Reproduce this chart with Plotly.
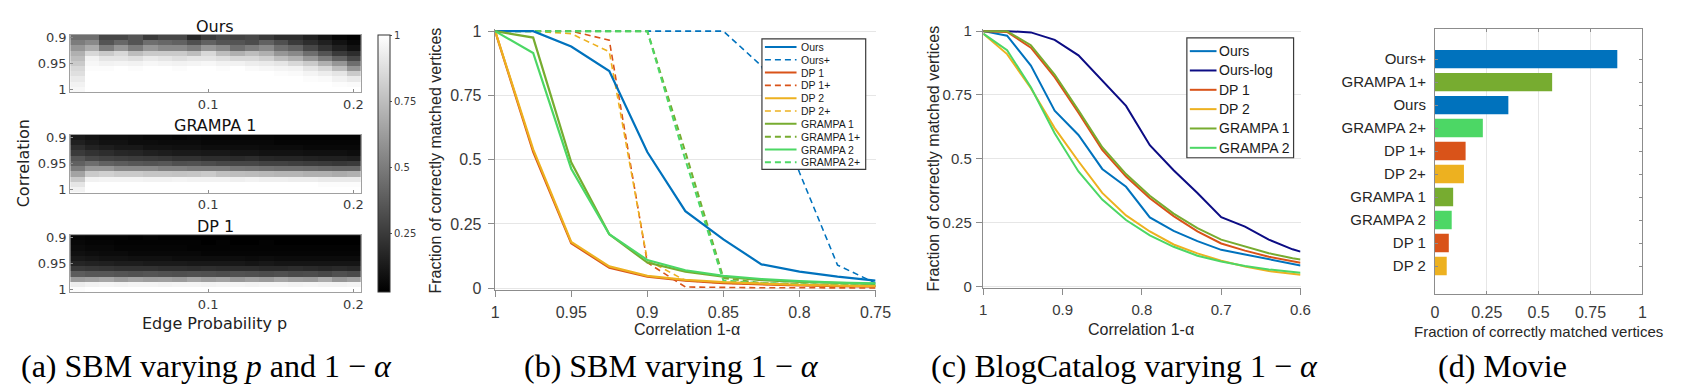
import plotly.graph_objects as go

W, H = 1693, 390
def px(x): return x / W
def py(y): return 1 - y / H

# ---------------- (a) heatmaps ----------------
edge_p = [0.01, 0.02, 0.03, 0.04, 0.05, 0.06, 0.07, 0.08, 0.09, 0.10,
          0.11, 0.12, 0.13, 0.14, 0.15, 0.16, 0.17, 0.18, 0.19, 0.20]
corr_a = [0.90, 0.91, 0.92, 0.93, 0.94, 0.95, 0.96, 0.97, 0.98, 0.99, 1.00]

heat_ours = [
    [0.45, 0.45, 0.30, 0.30, 0.35, 0.25, 0.30, 0.30, 0.18, 0.25, 0.30, 0.28, 0.30, 0.25, 0.20, 0.20, 0.15, 0.10, 0.05, 0.03],
    [0.50, 0.55, 0.35, 0.42, 0.35, 0.45, 0.42, 0.40, 0.33, 0.40, 0.35, 0.35, 0.32, 0.40, 0.33, 0.25, 0.20, 0.15, 0.10, 0.06],
    [0.60, 0.68, 0.50, 0.60, 0.50, 0.60, 0.55, 0.55, 0.50, 0.60, 0.55, 0.45, 0.50, 0.55, 0.45, 0.40, 0.30, 0.22, 0.15, 0.10],
    [0.70, 0.85, 0.80, 0.85, 0.75, 0.80, 0.80, 0.80, 0.75, 0.85, 0.75, 0.70, 0.75, 0.70, 0.60, 0.55, 0.45, 0.35, 0.25, 0.20],
    [0.75, 0.95, 0.90, 0.90, 0.88, 0.92, 0.90, 0.88, 0.90, 0.90, 0.88, 0.85, 0.85, 0.82, 0.75, 0.70, 0.60, 0.50, 0.40, 0.30],
    [0.80, 0.97, 0.95, 0.96, 0.95, 0.97, 0.96, 0.95, 0.96, 0.97, 0.95, 0.95, 0.93, 0.92, 0.90, 0.85, 0.80, 0.70, 0.60, 0.45],
    [0.85, 0.99, 0.99, 1.00, 0.99, 1.00, 1.00, 0.99, 1.00, 1.00, 0.99, 1.00, 0.98, 0.97, 0.96, 0.95, 0.90, 0.85, 0.75, 0.60],
    [0.88, 1.00, 1.00, 1.00, 1.00, 1.00, 1.00, 1.00, 1.00, 1.00, 1.00, 1.00, 1.00, 1.00, 0.99, 0.98, 0.96, 0.93, 0.90, 0.80],
    [0.92, 1.00, 1.00, 1.00, 1.00, 1.00, 1.00, 1.00, 1.00, 1.00, 1.00, 1.00, 1.00, 1.00, 1.00, 1.00, 0.99, 0.98, 0.95, 0.92],
    [0.95, 1.00, 1.00, 1.00, 1.00, 1.00, 1.00, 1.00, 1.00, 1.00, 1.00, 1.00, 1.00, 1.00, 1.00, 1.00, 1.00, 1.00, 0.99, 0.98],
    [0.97, 1.00, 1.00, 1.00, 1.00, 1.00, 1.00, 1.00, 1.00, 1.00, 1.00, 1.00, 1.00, 1.00, 1.00, 1.00, 1.00, 1.00, 1.00, 1.00],
]
heat_grampa1 = [
    [0.12, 0.10, 0.08, 0.08, 0.07, 0.06, 0.06, 0.05, 0.06, 0.05, 0.05, 0.05, 0.05, 0.05, 0.04, 0.04, 0.04, 0.04, 0.04, 0.04],
    [0.15, 0.12, 0.10, 0.10, 0.08, 0.08, 0.07, 0.07, 0.07, 0.06, 0.06, 0.06, 0.06, 0.06, 0.05, 0.05, 0.05, 0.05, 0.05, 0.05],
    [0.20, 0.16, 0.14, 0.12, 0.12, 0.10, 0.10, 0.09, 0.09, 0.08, 0.08, 0.08, 0.08, 0.07, 0.07, 0.07, 0.06, 0.06, 0.06, 0.06],
    [0.25, 0.22, 0.20, 0.18, 0.17, 0.15, 0.14, 0.13, 0.13, 0.12, 0.12, 0.11, 0.11, 0.10, 0.10, 0.10, 0.09, 0.09, 0.09, 0.08],
    [0.35, 0.30, 0.28, 0.27, 0.26, 0.25, 0.24, 0.22, 0.22, 0.20, 0.20, 0.19, 0.20, 0.18, 0.17, 0.17, 0.16, 0.15, 0.15, 0.14],
    [0.40, 0.45, 0.40, 0.38, 0.36, 0.35, 0.36, 0.33, 0.34, 0.32, 0.30, 0.30, 0.30, 0.28, 0.28, 0.27, 0.26, 0.25, 0.24, 0.25],
    [0.50, 0.60, 0.60, 0.55, 0.55, 0.55, 0.52, 0.52, 0.50, 0.50, 0.50, 0.48, 0.47, 0.46, 0.45, 0.45, 0.44, 0.43, 0.42, 0.42],
    [0.65, 0.80, 0.82, 0.80, 0.80, 0.78, 0.78, 0.77, 0.78, 0.80, 0.76, 0.75, 0.74, 0.73, 0.72, 0.72, 0.70, 0.70, 0.68, 0.70],
    [0.80, 0.95, 0.96, 0.96, 0.96, 0.95, 0.95, 0.96, 0.95, 0.95, 0.95, 0.94, 0.95, 0.94, 0.94, 0.93, 0.93, 0.92, 0.92, 0.92],
    [0.90, 1.00, 1.00, 1.00, 1.00, 1.00, 1.00, 1.00, 1.00, 1.00, 1.00, 1.00, 1.00, 1.00, 1.00, 1.00, 1.00, 0.99, 0.99, 0.99],
    [0.95, 1.00, 1.00, 1.00, 1.00, 1.00, 1.00, 1.00, 1.00, 1.00, 1.00, 1.00, 1.00, 1.00, 1.00, 1.00, 1.00, 1.00, 1.00, 1.00],
]
heat_dp1 = [
    [0.05, 0.04, 0.04, 0.04, 0.03, 0.04, 0.03, 0.03, 0.03, 0.03, 0.03, 0.03, 0.03, 0.03, 0.03, 0.03, 0.03, 0.03, 0.03, 0.03],
    [0.06, 0.05, 0.05, 0.04, 0.04, 0.04, 0.04, 0.04, 0.04, 0.03, 0.04, 0.03, 0.03, 0.04, 0.03, 0.03, 0.03, 0.03, 0.03, 0.03],
    [0.07, 0.06, 0.06, 0.05, 0.05, 0.05, 0.05, 0.05, 0.04, 0.04, 0.04, 0.04, 0.04, 0.04, 0.04, 0.04, 0.04, 0.04, 0.04, 0.04],
    [0.09, 0.08, 0.07, 0.07, 0.06, 0.06, 0.06, 0.06, 0.06, 0.05, 0.05, 0.05, 0.05, 0.05, 0.05, 0.05, 0.05, 0.05, 0.05, 0.05],
    [0.12, 0.11, 0.10, 0.10, 0.09, 0.09, 0.09, 0.08, 0.08, 0.08, 0.08, 0.08, 0.07, 0.08, 0.07, 0.07, 0.07, 0.07, 0.07, 0.07],
    [0.17, 0.16, 0.15, 0.14, 0.14, 0.13, 0.13, 0.13, 0.12, 0.12, 0.12, 0.12, 0.11, 0.12, 0.11, 0.11, 0.11, 0.11, 0.11, 0.11],
    [0.25, 0.24, 0.23, 0.22, 0.22, 0.22, 0.21, 0.21, 0.20, 0.21, 0.20, 0.20, 0.20, 0.19, 0.19, 0.20, 0.19, 0.18, 0.19, 0.18],
    [0.38, 0.36, 0.36, 0.35, 0.34, 0.35, 0.34, 0.33, 0.34, 0.33, 0.32, 0.34, 0.33, 0.32, 0.33, 0.31, 0.32, 0.30, 0.33, 0.31],
    [0.62, 0.64, 0.66, 0.62, 0.65, 0.63, 0.64, 0.62, 0.66, 0.63, 0.65, 0.61, 0.64, 0.62, 0.66, 0.63, 0.62, 0.68, 0.60, 0.64],
    [0.93, 0.95, 0.96, 0.95, 0.96, 0.96, 0.95, 0.96, 0.96, 0.95, 0.96, 0.96, 0.95, 0.96, 0.96, 0.95, 0.96, 0.95, 0.95, 0.96],
    [0.99, 1.00, 1.00, 1.00, 1.00, 1.00, 1.00, 1.00, 1.00, 1.00, 1.00, 1.00, 1.00, 1.00, 1.00, 1.00, 1.00, 1.00, 1.00, 1.00],
]
heat_titles = ["Ours", "GRAMPA 1", "DP 1"]

# ---------------- (b) SBM ----------------
corr_b = [1.0, 0.975, 0.95, 0.925, 0.9, 0.875, 0.85, 0.825, 0.8, 0.775, 0.75]
sbm_ours = [1.0, 1.0, 0.94, 0.845, 0.53, 0.30, 0.19, 0.093, 0.065, 0.045, 0.03]
sbm_ours_p = [1.0, 1.0, 1.0, 1.0, 1.0, 1.0, 1.0, 0.865, 0.45, 0.09, 0.02]
sbm_dp1 = [1.0, 0.53, 0.175, 0.08, 0.045, 0.03, 0.02, 0.015, 0.011, 0.008, 0.006]
sbm_dp1_p = [1.0, 1.0, 1.0, 0.965, 0.10, 0.005, 0.003, 0.002, 0.002, 0.001, 0.001]
sbm_dp2 = [1.0, 0.54, 0.18, 0.085, 0.048, 0.033, 0.024, 0.018, 0.013, 0.010, 0.008]
sbm_dp2_p = [1.0, 1.0, 0.99, 0.92, 0.11, 0.03, 0.02, 0.015, 0.012, 0.010, 0.008]
sbm_g1 = [1.0, 0.975, 0.49, 0.21, 0.10, 0.065, 0.045, 0.032, 0.025, 0.020, 0.017]
sbm_g1_p = [1.0, 1.0, 1.0, 1.0, 1.0, 0.53, 0.04, 0.02, 0.015, 0.012, 0.010]
sbm_g2 = [1.0, 0.915, 0.465, 0.21, 0.11, 0.07, 0.048, 0.036, 0.028, 0.022, 0.019]
sbm_g2_p = [1.0, 1.0, 1.0, 1.0, 1.0, 0.50, 0.03, 0.02, 0.015, 0.012, 0.010]

# ---------------- (c) BlogCatalog ----------------
corr_c = [1.0, 0.97, 0.94, 0.91, 0.88, 0.85, 0.82, 0.79, 0.76, 0.73, 0.70, 0.67, 0.64, 0.61, 0.60]
blog_ours = [1.0, 0.982, 0.865, 0.688, 0.593, 0.46, 0.39, 0.27, 0.217, 0.177, 0.143, 0.124, 0.107, 0.088, 0.082]
blog_ours_log = [1.0, 1.0, 0.995, 0.966, 0.905, 0.808, 0.707, 0.553, 0.455, 0.366, 0.271, 0.234, 0.183, 0.145, 0.136]
blog_dp1 = [1.0, 0.997, 0.935, 0.82, 0.68, 0.535, 0.43, 0.345, 0.275, 0.215, 0.168, 0.14, 0.116, 0.097, 0.092]
blog_dp2 = [0.99, 0.91, 0.776, 0.62, 0.49, 0.366, 0.278, 0.215, 0.164, 0.129, 0.10, 0.078, 0.06, 0.048, 0.045]
blog_g1 = [1.0, 1.0, 0.945, 0.83, 0.69, 0.545, 0.44, 0.355, 0.285, 0.228, 0.183, 0.155, 0.13, 0.11, 0.105]
blog_g2 = [0.99, 0.925, 0.78, 0.60, 0.45, 0.34, 0.26, 0.20, 0.155, 0.12, 0.097, 0.08, 0.066, 0.056, 0.053]

# ---------------- (d) Movie ----------------
movie_methods = ["Ours+", "GRAMPA 1+", "Ours", "GRAMPA 2+", "DP 1+", "DP 2+", "GRAMPA 1", "GRAMPA 2", "DP 1", "DP 2"]
movie_values = [0.879, 0.565, 0.354, 0.231, 0.148, 0.140, 0.088, 0.081, 0.067, 0.057]

C_OURS = "#0072BD"
C_LOG = "#0c0c84"
C_DP1 = "#D95319"
C_DP2 = "#EDB120"
C_G1 = "#77AC30"
C_G2 = "#4CD765"
base_color = {"Ours": C_OURS, "DP 1": C_DP1, "DP 2": C_DP2, "GRAMPA 1": C_G1, "GRAMPA 2": C_G2}
DASH = "6px,4px"

fig = go.Figure()

# heatmaps
heat_data = [heat_ours, heat_grampa1, heat_dp1]
heat_rows = [(30, 89), (133, 193), (237, 296)]
for i, z in enumerate(heat_data):
    sfx = "" if i == 0 else str(i + 1)
    fig.add_trace(go.Heatmap(x=edge_p, y=corr_a, z=z, coloraxis="coloraxis",
                             xaxis="x" + sfx, yaxis="y" + sfx, hoverinfo="skip"))

AX = "#8c8c8c"
TICKC = "#3a3a3a"
for i, (t, b) in enumerate(heat_rows):
    sfx = "" if i == 0 else str(i + 1)
    fig.layout["xaxis" + sfx] = dict(domain=[px(67), px(361)], anchor="y" + sfx, range=[0.005, 0.205],
                                    tickvals=[0.1, 0.2], ticktext=["0.1", "0.2"], ticks="inside", ticklen=3,
                                    tickcolor=AX, showline=True, mirror=True, linecolor="#a0a0a0", linewidth=1,
                                    showgrid=False, zeroline=False,
                                    tickfont=dict(family="DejaVu Sans", size=13, color=TICKC))
    fig.layout["yaxis" + sfx] = dict(domain=[py(b), py(t)], anchor="x" + sfx, range=[1.005, 0.895],
                                    tickvals=[0.9, 0.95, 1.0], ticktext=["0.9", "0.95", "1"], ticks="inside",
                                    ticklen=3, tickcolor=AX, showline=True, mirror=True, linecolor="#a0a0a0",
                                    linewidth=1, showgrid=False, zeroline=False,
                                    tickfont=dict(family="DejaVu Sans", size=13, color=TICKC))

fig.update_layout(coloraxis=dict(
    colorscale=[[0, "black"], [1, "white"]], cmin=0.03, cmax=1.0,
    colorbar=dict(x=px(378), xanchor="left", y=py(296), yanchor="bottom", len=266 / H, lenmode="fraction",
                  thickness=12, thicknessmode="pixels", outlinewidth=1, outlinecolor="#333", xpad=0, ypad=0,
                  tickvals=[0.25, 0.5, 0.75, 1.0], ticktext=["0.25", "0.5", "0.75", "1"], ticks="outside",
                  ticklen=2, tickcolor="#555", tickfont=dict(family="DejaVu Sans", size=10, color=TICKC))))

# (b) lines
sbm_series = [
    ("Ours", sbm_ours, C_OURS, "solid", 2.2), ("Ours+", sbm_ours_p, C_OURS, DASH, 1.6),
    ("DP 1", sbm_dp1, C_DP1, "solid", 2.2), ("DP 1+", sbm_dp1_p, C_DP1, DASH, 1.6),
    ("DP 2", sbm_dp2, C_DP2, "solid", 2.2), ("DP 2+", sbm_dp2_p, C_DP2, DASH, 1.6),
    ("GRAMPA 1", sbm_g1, C_G1, "solid", 2.2), ("GRAMPA 1+", sbm_g1_p, C_G1, DASH, 2.0),
    ("GRAMPA 2", sbm_g2, C_G2, "solid", 2.2), ("GRAMPA 2+", sbm_g2_p, C_G2, DASH, 2.0),
]
draw_order_b = [1, 3, 5, 7, 9, 0, 2, 4, 6, 8]
for k in draw_order_b:
    name, ys, col, dash, w = sbm_series[k]
    fig.add_trace(go.Scatter(x=corr_b, y=ys, mode="lines", name=name, line=dict(color=col, dash=dash, width=w),
                             xaxis="x4", yaxis="y4", showlegend=False))

blog_series = [
    ("Ours", blog_ours, C_OURS), ("Ours-log", blog_ours_log, C_LOG), ("DP 1", blog_dp1, C_DP1),
    ("DP 2", blog_dp2, C_DP2), ("GRAMPA 1", blog_g1, C_G1), ("GRAMPA 2", blog_g2, C_G2),
]
for name, ys, col in blog_series:
    fig.add_trace(go.Scatter(x=corr_c, y=ys, mode="lines", name=name, line=dict(color=col, width=2),
                             xaxis="x5", yaxis="y5", showlegend=False))

# (d) bars
bar_colors = [base_color[m.rstrip("+")] for m in movie_methods]
fig.add_trace(go.Bar(x=movie_values, y=movie_methods, orientation="h", marker=dict(color=bar_colors, line=dict(width=0)),
                     width=0.8, xaxis="x6", yaxis="y6", showlegend=False))

frac_ticks = [0, 0.25, 0.5, 0.75, 1]
frac_text = ["0", "0.25", "0.5", "0.75", "1"]
GRID = "#e6e6e6"

def line_axes(xdom, ytop, ybot, xr, xt, xtt, xs, fsize, ystand):
    span = ybot - ytop
    tf = dict(family="Liberation Sans, Arial", size=fsize, color=TICKC)
    fig.layout["xaxis" + xs] = dict(domain=[px(xdom[0]), px(xdom[1])], anchor="y" + xs, range=xr,
                                   tickvals=xt, ticktext=xtt, ticks="outside", ticklen=6, tickcolor=AX,
                                   showline=True, linecolor=AX, linewidth=1.5, showgrid=False, zeroline=False,
                                   tickfont=tf, ticklabelstandoff=2)
    fig.layout["yaxis" + xs] = dict(domain=[py(ybot + 0.005 * span), py(ytop - 0.01 * span)], anchor="x" + xs,
                                   range=[-0.005, 1.01], tickvals=frac_ticks, ticktext=frac_text,
                                   ticks="outside", ticklen=6, tickcolor=AX, showline=True, linecolor=AX,
                                   linewidth=1.5, showgrid=True, gridcolor=GRID, gridwidth=1, zeroline=False,
                                   tickfont=tf, ticklabelstandoff=ystand)

line_axes((497, 882), 26, 292, [1.0, 0.75], [1, 0.95, 0.9, 0.85, 0.8, 0.75],
          ["1", "0.95", "0.9", "0.85", "0.8", "0.75"], "4", 16, 3)
line_axes((991, 1312), 26, 290, [1.0, 0.6], [1, 0.9, 0.8, 0.7, 0.6],
          ["1", "0.9", "0.8", "0.7", "0.6"], "5", 15, 1)

fig.layout["xaxis6"] = dict(domain=[px(1448), px(1658)], anchor="y6", range=[0, 1], tickvals=frac_ticks,
                            ticktext=frac_text, ticks="inside", ticklen=3, tickcolor=AX, showline=True,
                            mirror="ticks", linecolor=AX, linewidth=1, showgrid=True, gridcolor=GRID,
                            zeroline=False, tickfont=dict(family="Liberation Sans, Arial", size=16, color=TICKC),
                            ticklabelstandoff=4)
fig.layout["yaxis6"] = dict(domain=[py(298), py(24)], anchor="x6", type="category",
                            categoryorder="array", categoryarray=movie_methods, range=[10.22, -1.3],
                            ticks="inside", ticklen=3, tickcolor=AX, showline=True, mirror="ticks",
                            linecolor=AX, linewidth=1, showgrid=False, zeroline=False,
                            tickfont=dict(family="Liberation Sans, Arial", size=15, color="#262626"),
                            ticklabelstandoff=5)

# ---------------- legends (drawn as box + samples + text) ----------------
shapes = []
annots = []
def legend_box(entries, x0, x1, y0, y1, first_y, step, sx0, sx1, tx, fsize):
    shapes.append(dict(type="rect", xref="paper", yref="paper", x0=px(x0), x1=px(x1), y0=py(y1), y1=py(y0),
                       fillcolor="white", line=dict(color="#3a3a3a", width=1.2), layer="above"))
    for i, (name, col, dash, w) in enumerate(entries):
        yy = first_y + i * step
        shapes.append(dict(type="line", xref="paper", yref="paper", x0=px(sx0), x1=px(sx1), y0=py(yy), y1=py(yy),
                           line=dict(color=col, dash=dash, width=w), layer="above"))
        annots.append(dict(x=px(tx), y=py(yy), xref="paper", yref="paper", text=name, showarrow=False,
                           xanchor="left", yanchor="middle",
                           font=dict(family="Liberation Sans, Arial", size=fsize, color="#1a1a1a")))

legend_box([(n, c, d, min(w, 2.0)) for n, _, c, d, w in sbm_series], 767, 872, 34, 169, 42.3, 13.27,
           770, 802, 805, 10.5)
legend_box([(n, c, "solid", 2) for n, _, c in blog_series], 1197, 1305, 33, 157, 46.7, 20.0,
           1200, 1227, 1228, 14)

def text(x, y, s, size, family="Liberation Sans, Arial", color="#262626", angle=0):
    annots.append(dict(x=px(x), y=py(y), xref="paper", yref="paper", text=s, showarrow=False,
                       xanchor="center", yanchor="middle", textangle=angle,
                       font=dict(family=family, size=size, color=color)))

for t, yy in zip(heat_titles, [21, 124, 228]):
    text(214, yy, t, 16, "DejaVu Sans", "#111")
text(20, 163, "Correlation", 16, "DejaVu Sans", "#222", -90)
text(213, 328, "Edge Probability p", 16, "DejaVu Sans", "#222")
text(437, 160, "Fraction of correctly matched vertices", 16, angle=-90)
text(941, 158, "Fraction of correctly matched vertices", 16, angle=-90)
text(691, 335, "Correlation 1-α", 16)
text(1151, 335, "Correlation 1-α", 16)
text(1553, 337, "Fraction of correctly matched vertices", 15)

SERIF = "Liberation Serif, Times New Roman"
text(205, 372, "(a) SBM varying <i>p</i> and 1 − <i>α</i>", 32, SERIF, "black")
text(675, 372, "(b) SBM varying 1 − <i>α</i>", 32, SERIF, "black")
text(1134, 372, "(c) BlogCatalog varying 1 − <i>α</i>", 32, SERIF, "black")
text(1516, 372, "(d) Movie", 32, SERIF, "black")

fig.update_layout(width=W, height=H, margin=dict(l=0, r=0, t=0, b=0), paper_bgcolor="white",
                  plot_bgcolor="white", showlegend=False, shapes=shapes, annotations=annots,
                  font=dict(family="Liberation Sans, Arial", color="#262626"))

fig.write_html("out.html", config={"displayModeBar": False, "staticPlot": True},
               post_script="document.body.style.margin='0px';document.body.style.overflow='hidden';")
